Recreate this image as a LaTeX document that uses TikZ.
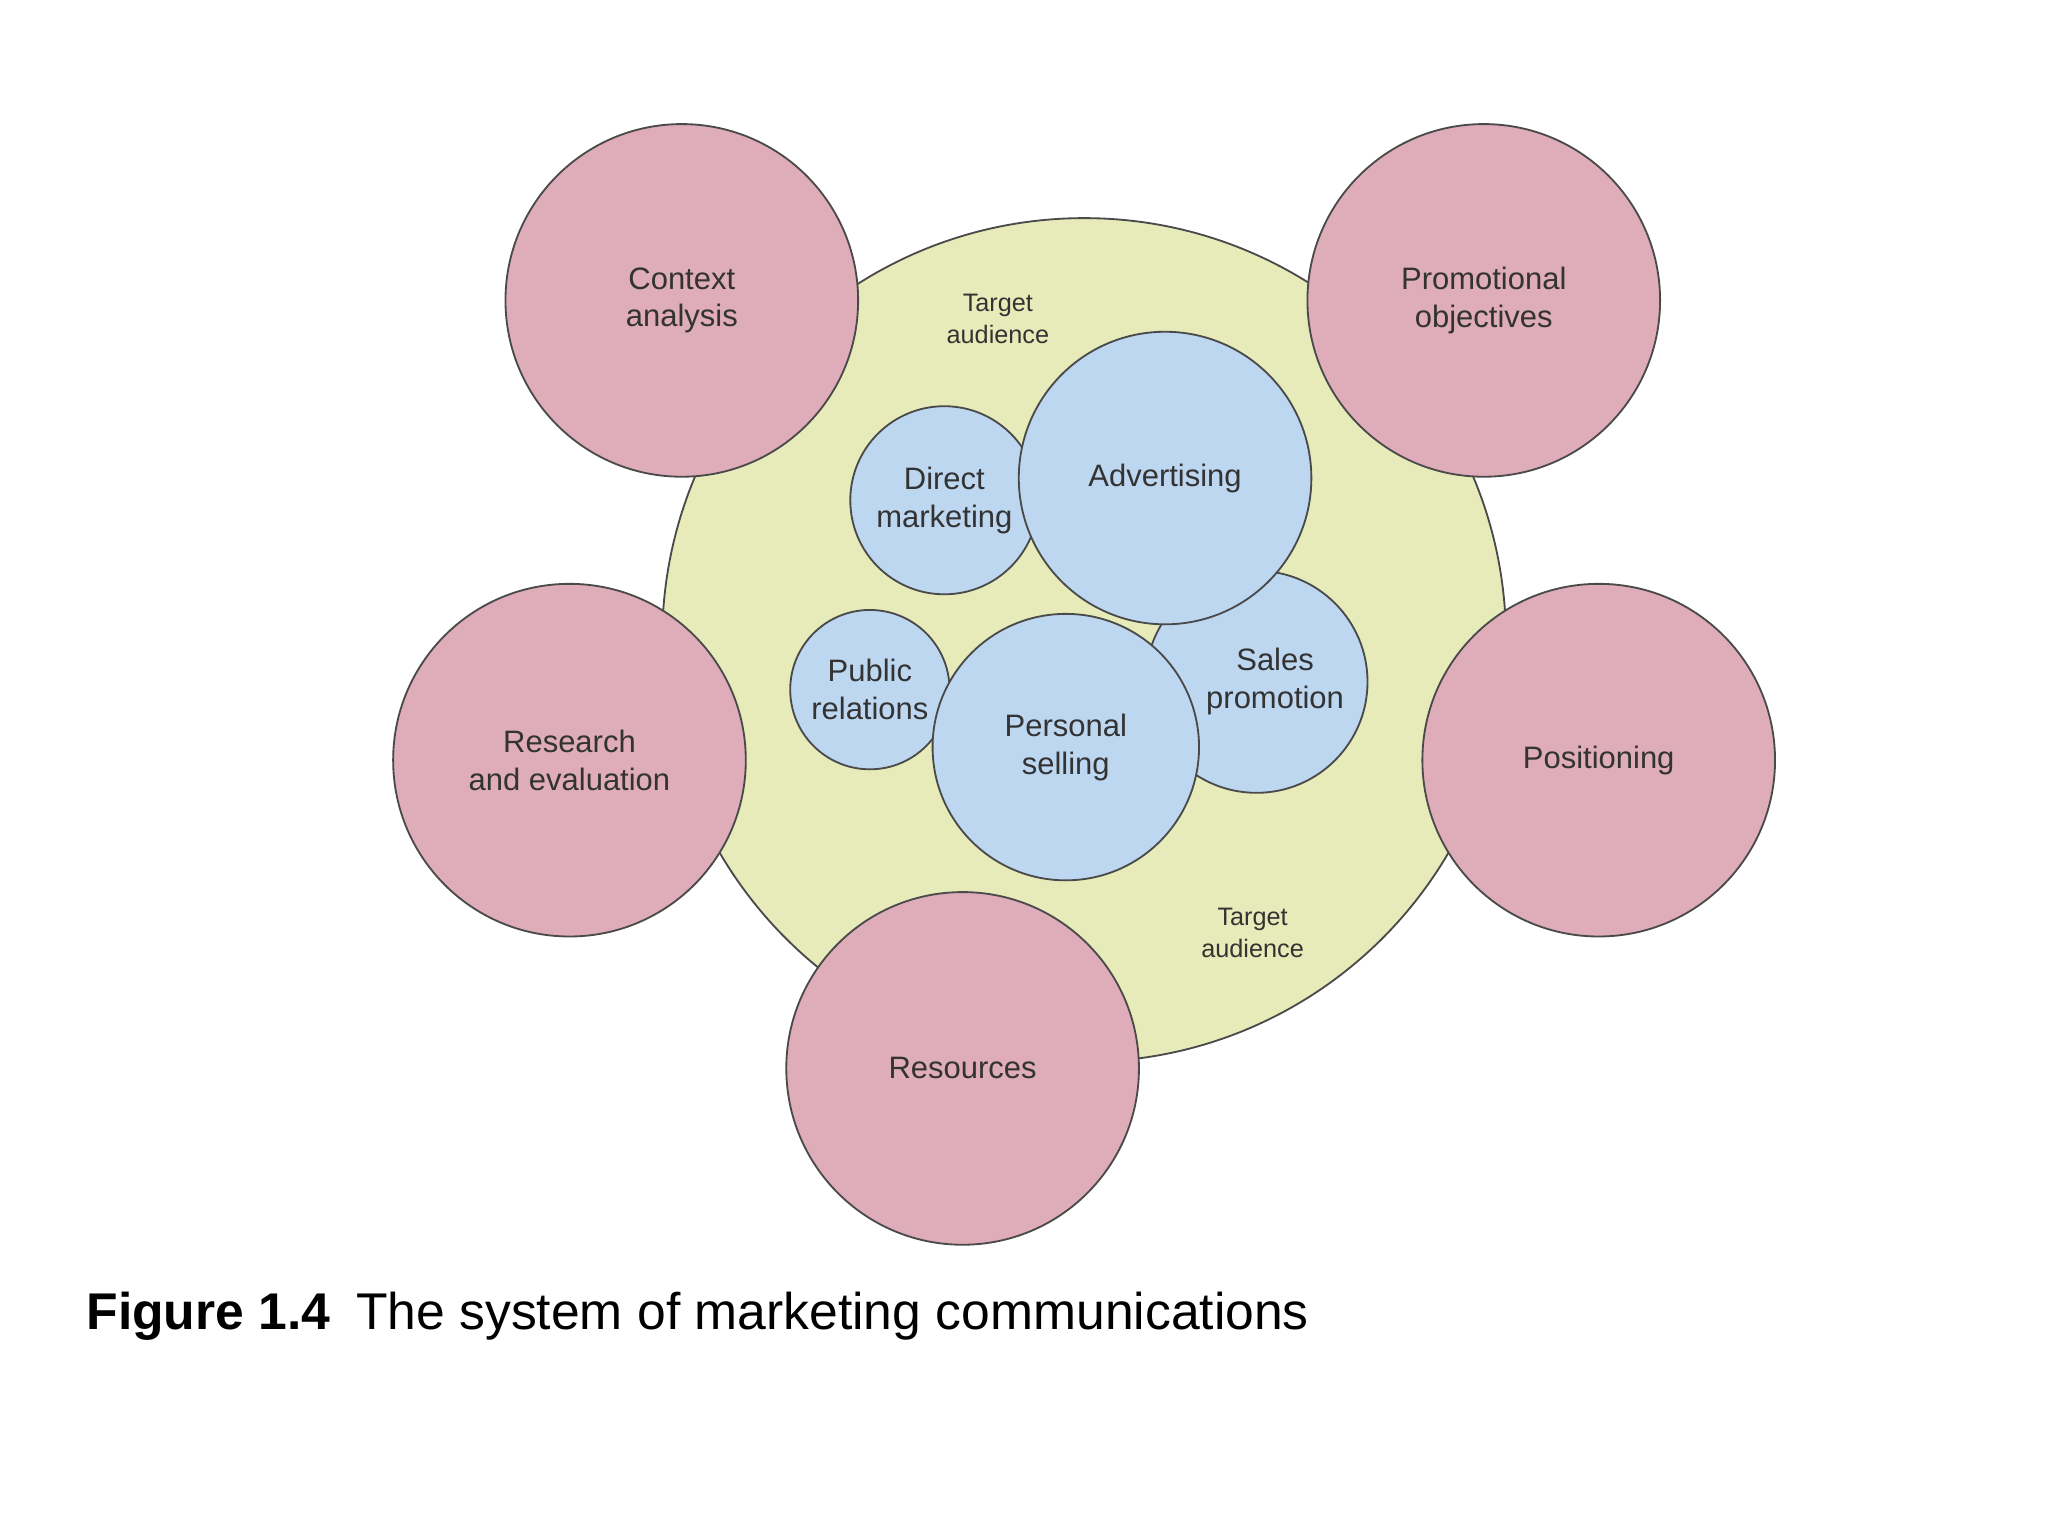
\documentclass[tikz,border=0pt]{standalone}
\usepackage{fontspec}
\setmainfont{Liberation Sans}
\definecolor{pinkc}{HTML}{DFACB9}
\definecolor{yellc}{HTML}{E7EBB9}
\definecolor{bluec}{HTML}{BDD7F0}
\definecolor{edgec}{HTML}{4A4A4A}
\definecolor{txtc}{HTML}{333333}
\begin{document}
\begin{tikzpicture}[x=0.02cm,y=-0.02cm,
  pinkbox/.style={circle,draw=edgec,fill=pinkc,line width=0.8pt,minimum size=270*0.02cm,inner sep=0pt,align=center,font=\fontsize{13.5}{16.5}\selectfont,text=txtc},
  bluebox/.style={circle,draw=edgec,fill=bluec,line width=0.8pt,inner sep=0pt,align=center,font=\fontsize{13.5}{16.5}\selectfont,text=txtc},
  tlabel/.style={align=center,font=\fontsize{11}{14}\selectfont,text=txtc}]
\useasboundingbox (0,0) rectangle (1568,1176);
\fill[white] (0,0) rectangle (1568,1176);
\node[circle,draw=edgec,fill=yellc,line width=0.8pt,minimum size=646*0.02cm,inner sep=0pt] (ta) at (830,490) {};
\node[pinkbox] (ctx) at (522,230) {Context\\analysis};
\node[pinkbox] (po) at (1136,230) {Promotional\\objectives};
\node[pinkbox] (re) at (436,582) {Research\\and evaluation};
\node[pinkbox] (pos) at (1224,582) {Positioning};
\node[pinkbox] (res) at (737,818) {Resources};
\node[bluebox,minimum size=170*0.02cm] (sp) at (962,522) {\hspace*{1.2em}Sales\\\hspace*{1.2em}promotion};
\node[bluebox,minimum size=144*0.02cm] (dm) at (723,383) {Direct\\marketing};
\node[bluebox,minimum size=224*0.02cm] (ad) at (892,366) {Advertising};
\node[bluebox,minimum size=122*0.02cm] (pr) at (666,528) {Public\\relations};
\node[bluebox,minimum size=204*0.02cm] (ps) at (816,572) {Personal\\selling};
\node[tlabel] (t1) at (764,244) {Target\\audience};
\node[tlabel] (t2) at (959,714) {Target\\audience};
\node[anchor=west,font=\fontsize{22.5}{27}\selectfont] (cap) at (60,1008) {\textbf{Figure 1.4}\enspace The system of marketing communications};
\end{tikzpicture}
\end{document}
